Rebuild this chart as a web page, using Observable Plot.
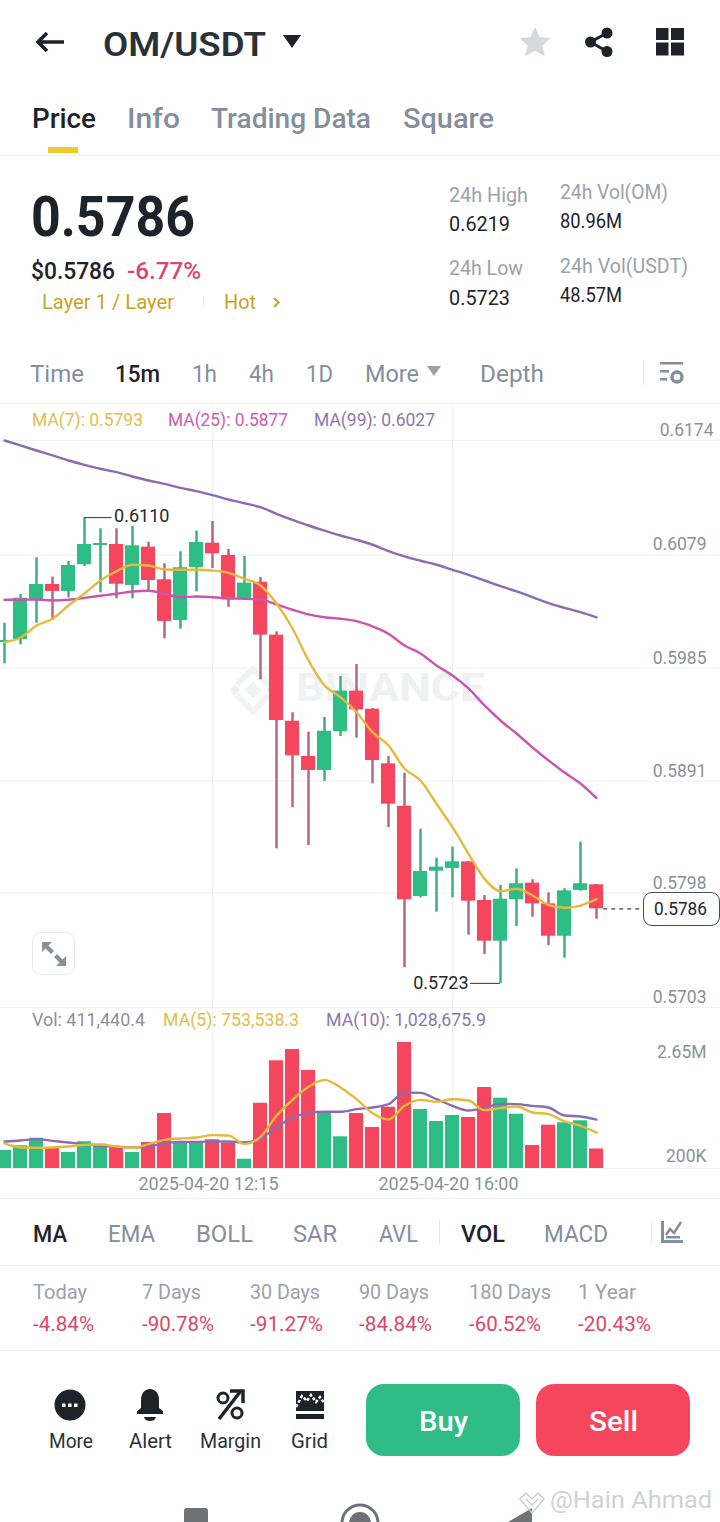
<!DOCTYPE html>
<html><head><meta charset="utf-8">
<script src="https://cdn.jsdelivr.net/npm/d3@7"></script>
<script src="https://cdn.jsdelivr.net/npm/@observablehq/plot@0.6"></script>
<style>
html,body{margin:0;padding:0;background:#fff;width:720px;height:1522px;overflow:hidden;font-family:Roboto,"Noto Sans",sans-serif}
#page{position:relative;width:720px;height:1522px;overflow:hidden}
.t{position:absolute;white-space:nowrap;line-height:1;transform-origin:0 50%}
.hl{position:absolute;left:0;width:720px;height:1px;background:#eef0f2}
.pl{position:absolute;left:0}
.pl svg{display:block;background:transparent!important}
svg.ic{position:absolute;overflow:visible}
</style></head><body><div id="page"></div>
<script>
// ---- data ----
const candleStart = Date.UTC(2025, 3, 20, 9, 0);
const opens  = [.60062,.60087,.60419,.60544,.60486,.60708,.60868,.60876,.60536,.60854,.60583,.60245,.60685,.60887,.60785,.60419,.60563,.60123,.59408,.59115,.58999,.59320,.59658,.59508,.59054,.58702,.57952,.58162,.58185,.58240,.57919,.57581,.57925,.58063,.57891,.57622,.58002,.58049];
const closes = [.60079,.60430,.60544,.60486,.60702,.60876,.60884,.60546,.60865,.60577,.60237,.60683,.60893,.60799,.60417,.60555,.60123,.59414,.59121,.58999,.59325,.59658,.59503,.59082,.58719,.57925,.58160,.58196,.58240,.57913,.57581,.57930,.58058,.57891,.57622,.57999,.58058,.5785];
const highs  = [.60222,.60461,.60766,.60605,.60735,.6110,.61007,.61007,.61026,.60895,.60716,.60816,.60987,.61067,.60835,.60777,.60602,.60151,.59478,.59317,.59439,.59780,.59879,.59514,.59115,.58976,.58511,.58270,.58362,.58243,.57960,.58043,.58182,.58091,.57983,.58016,.58403,.58052];
const lows   = [.59885,.60043,.60222,.60245,.60433,.60693,.60475,.60425,.60425,.60480,.60093,.60173,.60483,.60677,.60355,.60419,.59752,.58348,.58689,.58376,.58907,.59281,.59267,.58888,.58525,.57360,.57941,.57822,.57941,.57631,.57470,.5723,.57703,.57780,.57543,.57440,.57996,.57764];
const ma7    = [.60065,.60101,.60203,.60259,.60369,.60469,.60577,.60654,.60708,.60702,.60669,.60666,.60666,.60660,.60641,.60591,.60536,.60386,.60178,.59913,.59705,.59608,.59483,.59317,.59206,.59015,.58916,.58722,.58528,.58307,.58099,.57996,.58016,.57960,.57883,.57858,.57877,.5793];
const ma25   = [.60417,.60417,.60419,.60411,.60417,.60433,.60450,.60467,.60486,.60492,.60467,.60438,.60444,.60438,.60428,.60425,.60419,.60378,.60334,.60295,.60272,.60259,.60239,.60195,.60134,.60037,.59971,.59871,.59788,.59680,.59539,.59414,.59306,.59190,.59082,.58982,.58891,.5877];
const ma99   = [.6174,.61699,.61657,.61616,.61574,.61538,.61505,.61477,.61441,.61408,.61380,.61347,.61319,.61286,.61250,.61219,.61186,.61131,.61081,.61034,.60992,.60951,.60915,.60874,.60821,.60777,.60741,.60708,.60666,.60624,.60577,.60530,.60486,.60438,.60389,.60350,.60314,.6027];
const volumes= [379,477,637,442,337,562,511,427,337,547,1157,547,547,604,532,196,1373,2265,2503,2061,1157,667,1157,862,1289,2650,1241,988,1115,1073,1704,1479,1142,484,911,961,1003,411.44];
const volMa5 = [526,442,435,442,463,498,505,463,435,512,603,631,652,701,694,512,666,1108,1444,1718,1865,1704,1458,1164,1031,1318,1444,1402,1458,1430,1227,1269,1304,1178,1143,989,897,753.5];
const volMa10= [568,589,617,582,547,512,477,456,442,463,526,561,561,568,568,547,638,862,1073,1164,1192,1192,1248,1283,1353,1598,1591,1458,1318,1220,1269,1360,1353,1318,1283,1115,1094,1028.7];
const priceTicks = [0.6174,0.6079,0.5985,0.5891,0.5798,0.5703];
const volTopTick = 2650, volLowTick = 200;
const GREEN="#2ebd85", RED="#f6465d", WG="#38a981", WR="#b5607c", YEL="#e6b93c", MAG="#cc55ae", PUR="#8c6cb0";

const T = i => new Date(candleStart + i*15*60000);
const rows = opens.map((o,i)=>({i,t:T(i),l:T(i-.44),r:T(i+.44),o,c:closes[i],h:highs[i],lo:lows[i],up:closes[i]>=o,
  ma7:ma7[i],ma25:ma25[i],ma99:ma99[i],v:volumes[i]*1000,m5:volMa5[i]*1000,m10:volMa10[i]*1000}));
const xDomain=[T(-.25),T(44.75)];
const gridTimes=[T(13),T(28)];
const page=document.getElementById("page");

function txt(s,x,y,size,color,weight,right){
  const d=document.createElement("div");d.className="t";d.textContent=s;
  d.style.cssText=`left:${x}px;top:${y}px;font-size:${size}px;color:${color};font-weight:${weight||400}`;
  page.appendChild(d);
  const tf=["translateY(-50%)"];
  if(right){const w=d.getBoundingClientRect().width; tf.push(`scaleX(${(right-x)/w})`);}
  d.style.transform=tf.join(" ");
  return d;
}
function hl(y,x,w,c){const d=document.createElement("div");d.className="hl";d.style.top=y+"px";
  if(x!=null){d.style.left=x+"px";d.style.width=w+"px"} if(c)d.style.background=c;page.appendChild(d)}
function icon(x,y,w,h,vb,inner){const n=document.createElementNS("http://www.w3.org/2000/svg","svg");
  n.setAttribute("class","ic");n.setAttribute("viewBox",vb);n.setAttribute("width",w);n.setAttribute("height",h);
  n.style.left=x+"px";n.style.top=y+"px";n.innerHTML=inner;page.appendChild(n)}

// ---- watermark (beneath the chart) ----
icon(226,663,54,54,"0 0 54 54",'<g fill="#f1f2f3" transform="translate(27 27) rotate(45)"><rect x="-6" y="-6" width="12" height="12"/><path d="M-18 -18h26v6h-20v20h-6zM18 18h-26v-6h20v-20h6z"/><rect x="-17" y="9" width="8" height="8"/><rect x="9" y="-17" width="8" height="8"/></g>');
txt("BINANCE",296,688,38,"#f0f1f2",700,485);

// ---- price chart ----
const fontStyle={background:"transparent",fontFamily:"Roboto, sans-serif"};
const priceX={type:"time",domain:xDomain,range:[0,720],axis:null};
const pricePlot=Plot.plot({width:720,height:604,marginTop:0,marginBottom:0,marginLeft:0,marginRight:0,
  style:fontStyle,x:priceX,y:{domain:[0.5703,0.6174],range:[603,36],axis:null},
  marks:[
    Plot.ruleY(priceTicks,{stroke:"#eef0f2",strokeWidth:1}),
    Plot.ruleX(gridTimes,{stroke:"#eef0f2",strokeWidth:1}),
    Plot.ruleX(rows,{x:"t",y1:"lo",y2:"h",stroke:d=>d.up?WG:WR,strokeWidth:2.4}),
    Plot.rect(rows,{x1:"l",x2:"r",y1:"o",y2:"c",fill:d=>d.up?GREEN:RED}),
    Plot.line(rows,{x:"t",y:"ma99",stroke:PUR,strokeWidth:2.4,curve:"monotone-x"}),
    Plot.line(rows,{x:"t",y:"ma25",stroke:MAG,strokeWidth:2.4,curve:"monotone-x"}),
    Plot.line(rows,{x:"t",y:"ma7",stroke:YEL,strokeWidth:2.4,curve:"monotone-x"}),
    Plot.text(priceTicks.slice(1),{y:d=>d,text:d=>d.toFixed(4),frameAnchor:"right",dx:-14,dy:-10,textAnchor:"end",fill:"#8a9099",fontSize:17.5}),
    Plot.text(priceTicks.slice(0,1),{y:d=>d,text:d=>d.toFixed(4),frameAnchor:"right",dx:-7,dy:-10,textAnchor:"end",fill:"#8a9099",fontSize:17.5}),
    Plot.ruleY([0.6110],{x1:T(5),x2:T(6.72),stroke:"#4a4f57",strokeWidth:1.2}),
    Plot.text([0.6110],{x:T(6.85),y:d=>d,dy:-1,text:d=>d.toFixed(4),textAnchor:"start",fill:"#23272e",fontSize:18}),
    Plot.ruleY([0.5723],{x1:T(29.12),x2:T(31),stroke:"#4a4f57",strokeWidth:1.2}),
    Plot.text([0.5723],{x:T(29),y:d=>d,text:d=>d.toFixed(4),textAnchor:"end",fill:"#23272e",fontSize:18}),
    Plot.ruleY([0.5785],{x1:T(37.45),x2:T(39.8),stroke:"#3a3f47",strokeWidth:1.2,strokeDasharray:"4,4"})
  ]});
pricePlot.classList.add("pl");pricePlot.style.top="404px";page.appendChild(pricePlot);

// ---- volume chart ----
const volPlot=Plot.plot({width:720,height:190,marginTop:0,marginBottom:30,marginLeft:0,marginRight:0,
  style:fontStyle,x:{type:"time",domain:xDomain,range:[0,720]},y:{domain:[0,2650000],range:[160,34],axis:null},
  marks:[
    Plot.ruleX(gridTimes,{y1:0,y2:3370000,stroke:"#eef0f2",strokeWidth:1}),
    Plot.ruleY([0],{stroke:"#eef0f2",strokeWidth:1}),
    Plot.rectY(rows,{x1:"l",x2:"r",y1:0,y2:"v",fill:d=>d.up?GREEN:RED}),
    Plot.line(rows,{x:"t",y:"m10",stroke:PUR,strokeWidth:2.4,curve:"monotone-x"}),
    Plot.line(rows,{x:"t",y:"m5",stroke:YEL,strokeWidth:2.4,curve:"monotone-x"}),
    Plot.axisX({ticks:gridTimes,tickSize:0,tickPadding:9,dx:-4,tickFormat:d3.utcFormat("%Y-%m-%d %H:%M"),fontSize:18,fill:"#8a9099",label:null}),
    Plot.text([volTopTick*1000],{y:d=>d,text:()=>"2.65M",frameAnchor:"right",dx:-14,dy:10,textAnchor:"end",fill:"#8a9099",fontSize:17.5}),
    Plot.text([volLowTick*1000],{y:d=>d,text:()=>"200K",frameAnchor:"right",dx:-14,dy:-3,textAnchor:"end",fill:"#8a9099",fontSize:17.5})
  ]});
volPlot.classList.add("pl");volPlot.style.top="1008px";page.appendChild(volPlot);

// ---- dividers ----
hl(155);hl(403);hl(1198);hl(1265);hl(1350);
const GR="#848e9c",DK="#1e2329",LG="#9aa1ab",PRED="#d8486a",GOLD="#c9a227";
// ---- header ----
icon(34,30,32,24,"0 0 32 24",'<path d="M30 12H4M13 3L4 12l9 9" fill="none" stroke="#1e2329" stroke-width="3.6"/>');
txt("OM/USDT",103,44,34,"#2b3139",600,266);
icon(283,35,18,13,"0 0 18 13",'<path d="M0 0h18l-9 13z" fill="#1e2329"/>');
icon(519,26,32,32,"0 0 32 32",'<path d="M16 1l4.6 10 10.9 1.2-8.1 7.3 2.3 10.8L16 24.8 6.3 30.300l2.3-10.800L.5 12.200 11.400 11z" fill="#d5d8dc"/>');
icon(584,27,30,30,"0 0 30 30",'<g fill="#1e2329"><circle cx="23" cy="6" r="5.500"/><circle cx="6.500" cy="15" r="5.500"/><circle cx="23" cy="24.500" r="5.500"/></g><path d="M23 6L6.500 15l16.500 9.500" fill="none" stroke="#1e2329" stroke-width="3"/>');
icon(656,28,28,28,"0 0 28 28",'<g fill="#1e2329"><rect width="12.500" height="12"/><rect x="15" width="13" height="12"/><rect y="14.500" width="12.500" height="13"/><rect x="15" y="14.500" width="13" height="13"/></g>');
txt("Price",32,119,28,DK,500,96);
txt("Info",127,119,28,GR,500,180);
txt("Trading Data",211,119,28,GR,500,371);
txt("Square",403,119,28,GR,500,494);
const ul=document.createElement("div");ul.style.cssText="position:absolute;left:48px;top:147px;width:30px;height:6px;background:#f0c92e";page.appendChild(ul);
txt("0.5786",31,217,56,DK,700,195);
txt("$0.5786",31,271,23,DK,500,115);
txt("-6.77%",127,271,23,PRED,500,201);
txt("Layer 1 / Layer",42,302,20,GOLD,400,174);
icon(203,296,1,12,"0 0 1 12",'<rect width="1" height="12" fill="#eaecef"/>');
txt("Hot",224,302,20,GOLD,400,256);
icon(272,297,9,11,"0 0 9 11",'<path d="M2 1l4.500 4.500L2 10" fill="none" stroke="#d8a928" stroke-width="2.400"/>');
txt("24h High",449,195,20,LG,400,528);
txt("0.6219",449,224,20,DK,400,510);
txt("24h Vol(OM)",560,192,20,LG,400,668);
txt("80.96M",560,221,20,DK,400,622);
txt("24h Low",449,268,20,LG,400,523);
txt("0.5723",449,298,20,DK,400,510);
txt("24h Vol(USDT)",560,266,20,LG,400,688);
txt("48.57M",560,295,20,DK,400,622);
// ---- interval row ----
txt("Time",30,374,24,GR,400,84);
txt("15m",115,374,24,DK,500,160);
txt("1h",192,374,24,GR,400,217);
txt("4h",249,374,24,GR,400,274);
txt("1D",306,374,24,GR,400,333);
txt("More",365,374,24,GR,400,419);
icon(427,366,14,10,"0 0 14 10",'<path d="M0 0h14L7 10z" fill="#9aa1ab"/>');
txt("Depth",480,374,24,GR,400,544);
icon(643,361,1,24,"0 0 1 24",'<rect width="1" height="24" fill="#e6e8ea"/>');
icon(660,362,24,24,"0 0 24 24",'<g fill="#848e9c"><rect width="23" height="2.500"/><rect y="8" width="9" height="2.500"/><rect y="16" width="7" height="2.500"/></g><circle cx="17" cy="15" r="5" fill="none" stroke="#848e9c" stroke-width="3.500"/>');
// ---- legends ----
txt("MA(7): 0.5793",32,420,18,"#e3bc4c",400,143);
txt("MA(25): 0.5877",168,420,18,"#cf5cb0",400,288);
txt("MA(99): 0.6027",314,420,18,"#8f75ad",400,435);
txt("Vol: 411,440.4",32,1020,18,"#8a9099",400,145);
txt("MA(5): 753,538.3",163,1020,18,"#e3bc4c",400,299);
txt("MA(10): 1,028,675.9",326,1020,18,"#8f75ad",400,486);
// ---- current price box + expand ----
const box=document.createElement("div");box.style.cssText="position:absolute;left:643px;top:892px;width:75px;height:32px;border:1.200px solid #4a4f57;border-radius:9px;background:#fff";page.appendChild(box);
txt("0.5786",654,910,17.500,"#23272e",400,707);
const ex=document.createElement("div");ex.style.cssText="position:absolute;left:32px;top:932px;width:41px;height:41px;border:1.500px solid #e6e8ea;border-radius:9px;background:#fff";page.appendChild(ex);
icon(41,941,26,26,"0 0 26 26",'<path d="M1 1h10l-3.500 3.500L13 10l-3 3-5.500-5.500L1 11zM25 25H15l3.500-3.500L13 16l3-3 5.500 5.500L25 15z" fill="#8a9099"/>');
// ---- indicator row ----
txt("MA",33,1234,24,DK,500,67);
txt("EMA",108,1234,24,GR,400,155);
txt("BOLL",196,1234,24,GR,400,253);
txt("SAR",293,1234,24,GR,400,337);
txt("AVL",379,1234,24,GR,400,418);
icon(439,1220,1,24,"0 0 1 24",'<rect width="1" height="24" fill="#e6e8ea"/>');
txt("VOL",461,1234,24,DK,500,505);
txt("MACD",544,1234,24,GR,400,608);
icon(651,1222,1,22,"0 0 1 22",'<rect width="1" height="22" fill="#e6e8ea"/>');
icon(661,1221,22,22,"0 0 22 22",'<path d="M1.500 0v20.500H22" fill="none" stroke="#848e9c" stroke-width="3"/><path d="M5 14l4-6 4 4 7-11" fill="none" stroke="#848e9c" stroke-width="2.500"/><rect x="5" y="15" width="14" height="2.500" fill="#848e9c"/>');
// ---- performance row ----
const perfNames=["Today","7 Days","30 Days","90 Days","180 Days","1 Year"];
const perfVals=["-4.84%","-90.78%","-91.27%","-84.84%","-60.52%","-20.43%"];
const perfX=[33,142,250,359,469,578], perfR1=[87,201,320,429,551,636], perfR2=[94,214,323,432,541,651];
perfNames.forEach((n,i)=>{txt(n,perfX[i],1292,20,LG,400,perfR1[i]);txt(perfVals[i],perfX[i],1324,20,PRED,400,perfR2[i])});
// ---- action row ----
icon(54,1389,32,32,"0 0 32 32",'<circle cx="16" cy="16" r="15.500" fill="#1e2329"/><g fill="#fff"><rect x="8" y="14.500" width="3.500" height="3.500"/><rect x="14" y="14.500" width="3.500" height="3.500"/><rect x="20" y="14.500" width="3.500" height="3.500"/></g>');
icon(136,1389,28,32,"0 0 28 32",'<path d="M14 0c6 0 9 5 9 11v8l4 3v3H1v-3l4-3v-8C5 5 8 0 14 0z" fill="#1e2329"/><path d="M8 28h12c-1 3-3 4-6 4s-5-1-6-4z" fill="#1e2329"/>');
icon(216,1390,28,30,"0 0 28 30",'<path d="M3 29L24 2" stroke="#1e2329" stroke-width="3.500" fill="none"/><path d="M14 1h13v12" stroke="#1e2329" stroke-width="3.500" fill="none"/><circle cx="7" cy="8" r="5" fill="none" stroke="#1e2329" stroke-width="3"/><circle cx="21" cy="23" r="5" fill="none" stroke="#1e2329" stroke-width="3"/>');
icon(296,1391,28,28,"0 0 28 28",'<rect width="28" height="20" fill="#1e2329"/><path d="M0 16l6-11 5 5 4-6 5 7 4-5 4 6" fill="none" stroke="#fff" stroke-width="2.500" stroke-dasharray="3 2"/><rect y="23" width="28" height="5" fill="#1e2329"/>');
[["More",49,93],["Alert",129,172],["Margin",200,261],["Grid",291,328]].forEach(a=>txt(a[0],a[1],1441,20,"#2b3139",400,a[2]));
[[366,GREEN,"Buy",419,468],[536,RED,"Sell",589,638]].forEach(b=>{
  const d=document.createElement("div");d.style.cssText=`position:absolute;left:${b[0]}px;top:1384px;width:154px;height:72px;border-radius:18px;background:${b[1]==GREEN?"#30bd85":"#f6465d"}`;page.appendChild(d);
  txt(b[2],b[3],1422,28,"#fff",500,b[4]);
});
// ---- system bar, watermark ----
icon(181,1508,30,14,"0 0 30 14",'<path d="M3 14V3a3 3 0 0 1 3-3h18a3 3 0 0 1 3 3v11z" fill="#6d7178"/>');
icon(340,1503,40,19,"0 0 40 19",'<circle cx="20" cy="20" r="18" fill="none" stroke="#6d7178" stroke-width="3"/><circle cx="20" cy="20" r="11" fill="#6d7178"/>');
icon(508,1508,28,14,"0 0 28 14",'<path d="M0 14L24 0v14z" fill="#6d7178"/>');
icon(518,1489,28,28,"0 0 28 28",'<path d="M2 10l6-6 6 6 6-6 6 6-12 14z M8 10l6 6 6-6" fill="none" stroke="#c9ccd1" stroke-width="1.500"/>');
txt("@Hain Ahmad",550,1500,24,"#cfd2d6",400,712);
</script></body></html>
